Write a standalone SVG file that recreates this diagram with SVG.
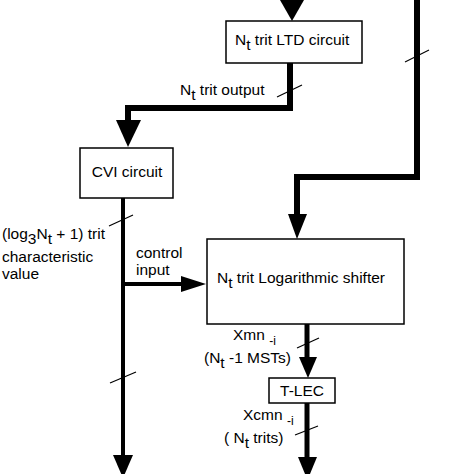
<svg xmlns="http://www.w3.org/2000/svg" width="474" height="474" viewBox="0 0 474 474">
<style>
.box{fill:#fff;stroke:#000;stroke-width:1.5}
.t{font-family:"Liberation Sans",Arial,sans-serif;font-size:15.5px;fill:#000}
.w{fill:none;stroke:#000;stroke-linejoin:miter}
.sl{stroke:#000;stroke-width:1.2}
.head{fill:#000}
</style>
<rect width="474" height="474" fill="#fff"/>
<g id="connectors">
  <polygon class="head" points="280,0 304,0 292,21"/>
  <polyline class="w" stroke-width="6" points="290,63 290,108 128,108 128,125"/>
  <polygon class="head" points="116,120 141,120 128,147"/>
  <line class="sl" x1="277" y1="97" x2="302" y2="85"/>
  <polyline class="w" stroke-width="6" points="417,0 417,177 297,177 297,220"/>
  <polygon class="head" points="288,214 307,214 297,239"/>
  <line class="sl" x1="405" y1="62" x2="429" y2="50"/>
  <line class="w" stroke-width="4" x1="123" y1="198" x2="123" y2="462"/>
  <polygon class="head" points="113,455 133,455 123,478"/>
  <line class="sl" x1="109" y1="226" x2="133" y2="215"/>
  <line class="sl" x1="110" y1="383" x2="136" y2="372"/>
  <line class="w" stroke-width="4" x1="123" y1="284" x2="185" y2="284"/>
  <polygon class="head" points="181,276 181,292 206,284"/>
  <line class="w" stroke-width="5" x1="307" y1="324" x2="307" y2="360"/>
  <polygon class="head" points="299,357 317,357 308,378"/>
  <line class="sl" x1="297" y1="348" x2="319" y2="338"/>
  <line class="w" stroke-width="5" x1="307" y1="403" x2="307" y2="462"/>
  <polygon class="head" points="298,457 317,457 307.5,480"/>
  <line class="sl" x1="295" y1="435" x2="318" y2="426"/>
</g>
<g id="ltd">
  <rect class="box" x="226" y="21" width="136" height="42"/>
  <text class="t" x="235" y="45">N<tspan dy="4.5">t</tspan><tspan dy="-4.5"> trit LTD circuit</tspan></text>
</g>
<g id="cvi">
  <rect class="box" x="80" y="148" width="93" height="50"/>
  <text class="t" x="127" y="177" text-anchor="middle">CVI circuit</text>
</g>
<g id="shifter">
  <rect class="box" x="207" y="239" width="197" height="85"/>
  <text class="t" x="217" y="283">N<tspan dy="4.5">t</tspan><tspan dy="-4.5"> trit Logarithmic shifter</tspan></text>
</g>
<g id="tlec">
  <rect class="box" x="269" y="378" width="66" height="25"/>
  <text class="t" x="302" y="396" text-anchor="middle">T-LEC</text>
</g>
<g id="labels">
  <text class="t" x="180" y="95">N<tspan dy="4.5">t</tspan><tspan dy="-4.5"> trit output</tspan></text>
  <text class="t" x="2" y="239">(log<tspan dy="4.5">3</tspan><tspan dy="-4.5">N</tspan><tspan dy="4.5">t</tspan><tspan dy="-4.5"> + 1) trit</tspan></text>
  <text class="t" x="2" y="262">characteristic</text>
  <text class="t" x="2" y="279">value</text>
  <text class="t" x="136" y="258">control</text>
  <text class="t" x="136" y="275">input</text>
  <text class="t" x="233" y="340">Xmn <tspan dy="5" font-size="12">-i</tspan></text>
  <text class="t" x="204" y="363">(N<tspan dy="4.5">t</tspan><tspan dy="-4.5"> -1 MSTs)</tspan></text>
  <text class="t" x="243" y="420">Xcmn <tspan dy="5" font-size="12">-i</tspan></text>
  <text class="t" x="224" y="443">( N<tspan dy="4.5">t</tspan><tspan dy="-4.5"> trits)</tspan></text>
</g>
</svg>
